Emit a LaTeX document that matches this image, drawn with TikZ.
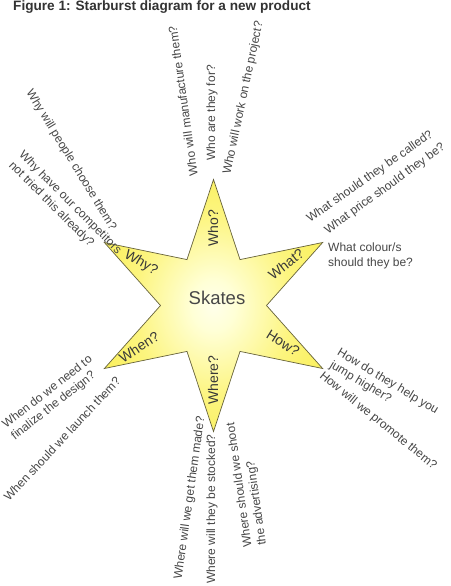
\documentclass[tikz,border=0pt]{standalone}
\usepackage{fontspec}
\setmainfont{Liberation Sans}
\pgfdeclareradialshading{starshade}{\pgfpoint{0bp}{0bp}}{rgb(0bp)=(1,1,0.92);rgb(5bp)=(1,1,0.84);rgb(18bp)=(0.99,0.96,0.5);rgb(38bp)=(0.97,0.92,0.22);rgb(50bp)=(0.96,0.91,0.15)}
\definecolor{txt}{HTML}{474747}
\definecolor{armtxt}{HTML}{383838}
\definecolor{titletxt}{HTML}{333333}
\definecolor{starline}{HTML}{66623A}
\begin{document}
\begin{tikzpicture}[x=1pt,y=-1pt,
  q/.style={text=txt, font=\fontsize{12}{14.5}\selectfont, inner sep=0pt},
  arm/.style={text=armtxt, font=\fontsize{14}{16}\selectfont, inner sep=0pt},
  mainlbl/.style={text=txt, font=\fontsize{18.5}{20}\selectfont, inner sep=0pt},
  titlelbl/.style={text=titletxt, font=\fontsize{13.6}{15}\selectfont\bfseries, inner sep=0pt}]
\useasboundingbox (0,0) rectangle (450,586);
\fill[white] (0,0) rectangle (450,586);
\node[titlelbl, anchor=base west] (title) at (13,10.5) {Figure 1: Starburst diagram for a new product};
% star
\shadedraw[shading=starshade, draw=starline, line width=0.7pt, shift={(213.5,305.5)}]
 (90:126) -- (60:53) -- (30:126) -- (0:53) -- (-30:126) -- (-60:53) -- (-90:126)
 -- (-120:53) -- (-150:126) -- (180:53) -- (150:126) -- (120:53) -- cycle;
\node[mainlbl] (skates) at (217,298) {Skates};
\node[arm, rotate=90] (who) at (213,228) {Who?};
\node[arm, rotate=38] (what) at (286,264) {What?};
\node[arm, rotate=-30] (why) at (141,263) {Why?};
\node[arm, rotate=33] (when) at (139,347) {When?};
\node[arm, rotate=-32] (how) at (283,343) {How?};
\node[arm, rotate=90] (where) at (213,380) {Where?};
% questions
\node[q, rotate=98] (who1) at (183,101) {Who will manufacture them?};
\node[q, rotate=90] (who2) at (212,113) {Who are they for?};
\node[q, rotate=78] (who3) at (243.5,98) {Who will work on the project?};
\node[q, rotate=35] (what1) at (370,177) {What should they be called?};
\node[q, rotate=36] (what2) at (385,189) {What price should they be?};
\node[q, anchor=north west, align=left] (what3) at (328,243) {What colour/s\\should they be?};
\node[q, rotate=-58.5] (why1) at (71,160) {Why will people choose them?};
\node[q, rotate=-45, align=left] (why2) at (65,208) {Why have our competitors\\not tried this already?};
\node[q, rotate=38, align=left] (when1) at (52,398) {When do we need to\\finalize the design?};
\node[q, rotate=47] (when2) at (62,439) {When should we launch them?};
\node[q, rotate=82] (where1) at (190,498) {Where will we get them made?};
\node[q, rotate=90] (where2) at (212,509) {Where will they be stocked?};
\node[q, rotate=98, align=left] (where3) at (247,484) {Where should we shoot\\the advertising?};
\node[q, rotate=-31, align=left] (how1) at (384,388) {How do they help you\\jump higher?};
\node[q, rotate=-39] (how2) at (378,421) {How will we promote them?};
\end{tikzpicture}
\end{document}
